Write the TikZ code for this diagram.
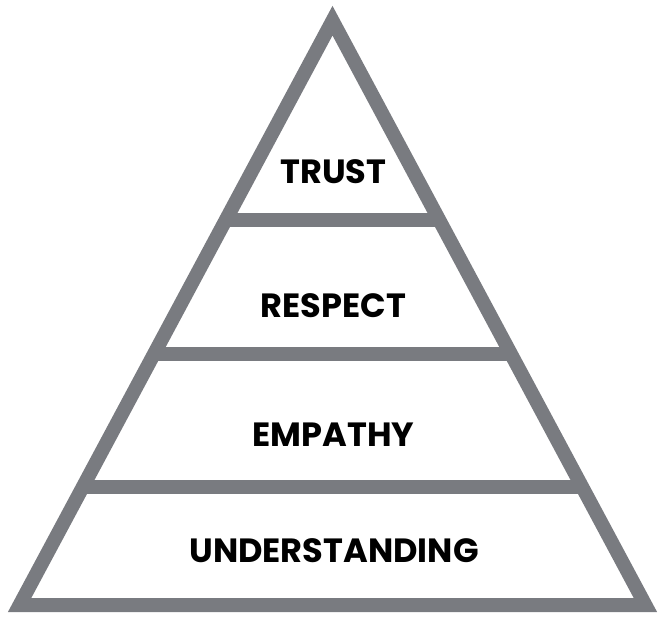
\documentclass[tikz,border=0pt]{standalone}
\usepackage{fontspec}
\setmainfont{Poppins}
\usetikzlibrary{calc}
\definecolor{pyrgray}{RGB}{121,123,128}

\begin{document}
\begin{tikzpicture}[x=1pt,y=-1pt,
 edge/.style={draw=pyrgray,line width=14pt,line join=miter},
 tier/.style={font=\fontsize{33.6}{34}\selectfont\bfseries,text=black,inner sep=0pt}]
\useasboundingbox (0,0) rectangle (667,620);
\coordinate (apex) at (332.5,20.7);
\coordinate (bl) at (19.6,605);
\coordinate (br) at (645.4,605);
\draw[edge] (apex)--(br)--(bl)--cycle;
\draw[edge] ($(apex)!0.341!(bl)$)--($(apex)!0.341!(br)$);
\draw[edge] ($(apex)!0.571!(bl)$)--($(apex)!0.571!(br)$);
\draw[edge] ($(apex)!0.798!(bl)$)--($(apex)!0.798!(br)$);
\node[tier] (trust) at (333.5,172) {TRUST};
\node[tier] (respect) at (333.5,306) {RESPECT};
\node[tier] (empathy) at (333.5,434.5) {EMPATHY};
\node[tier] (understanding) at (334,551) {UNDERSTANDING};
\end{tikzpicture}
\end{document}
